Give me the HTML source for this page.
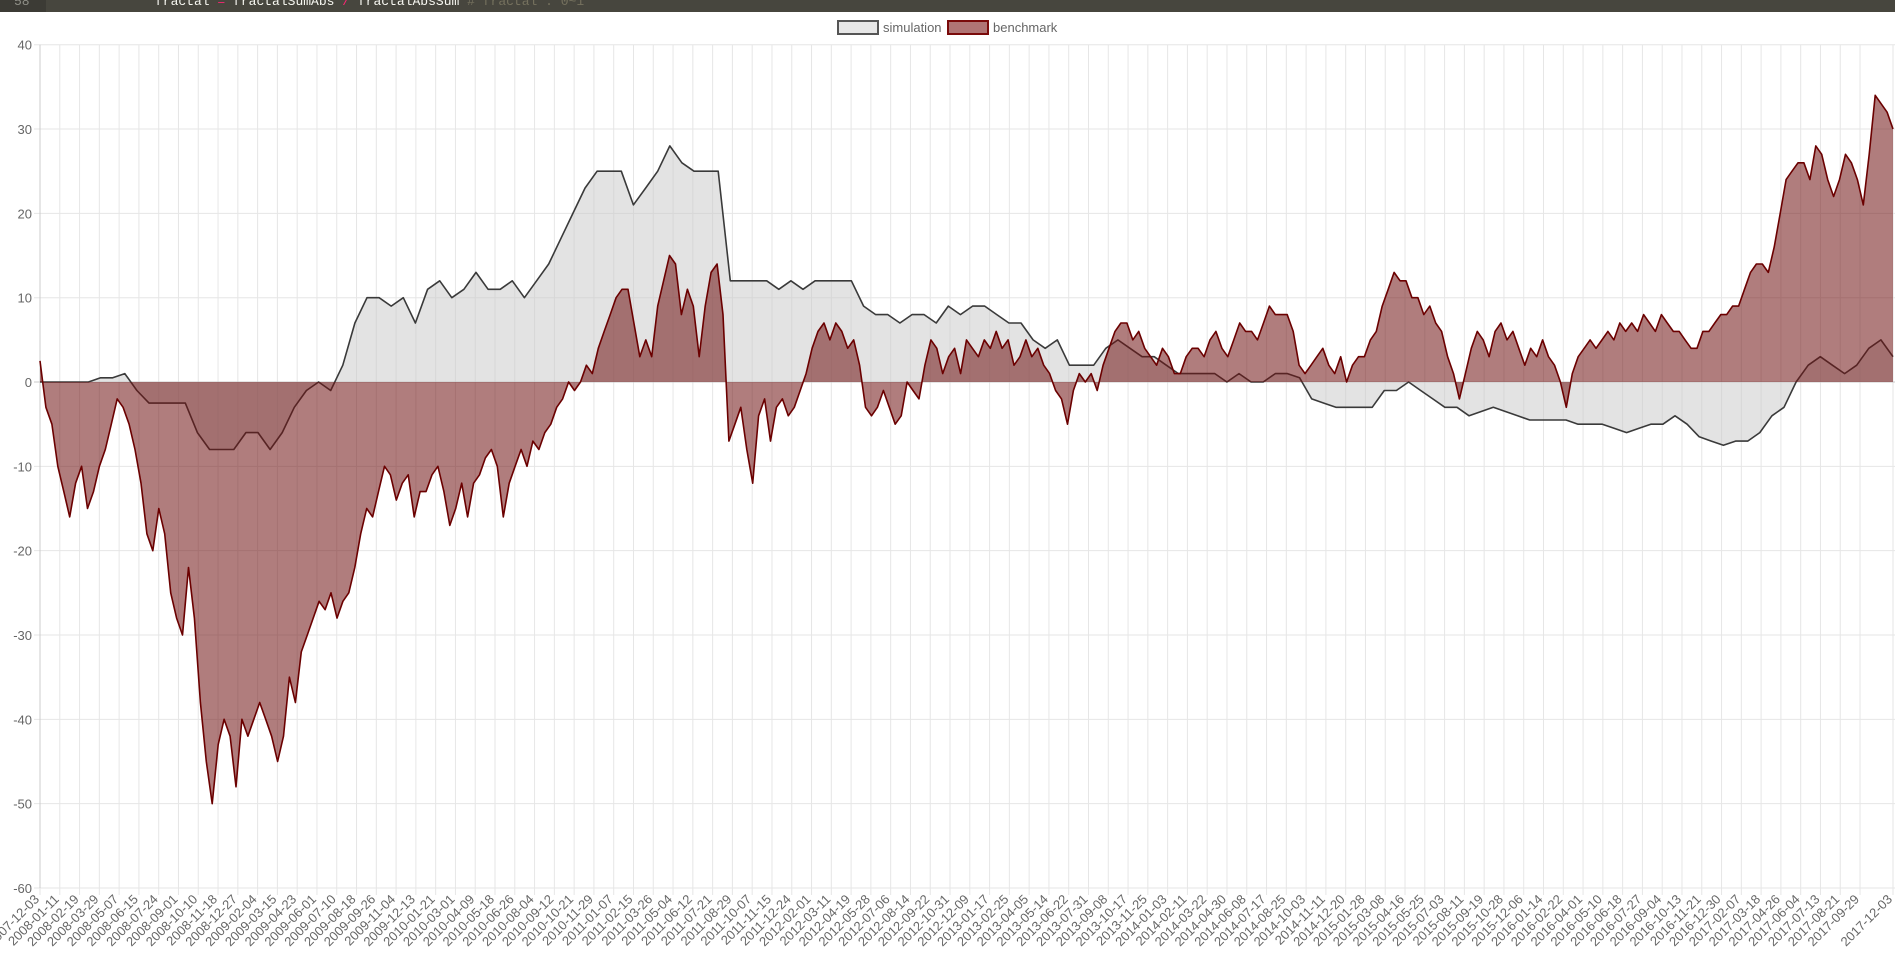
<!DOCTYPE html>
<html><head><meta charset="utf-8">
<style>
html,body{margin:0;padding:0;background:#fff;width:1895px;height:974px;overflow:hidden;font-family:"Liberation Sans",sans-serif}
#topbar{position:absolute;left:0;top:0;width:1895px;height:12px;background:#47463e;overflow:hidden}
#gutter{position:absolute;left:0;top:0;width:46px;height:12px;background:#3c3b35}
#topbar span{position:absolute;top:-6px;font:13px "Liberation Mono",monospace;white-space:nowrap}
svg{position:absolute;left:0;top:0}
</style></head><body>
<div id="topbar">
<div id="gutter"></div>
<span style="left:14px;color:#8f8f87">58</span>
<span style="left:155px;color:#f8f8f2">fractal <span style="position:static;color:#f92672">=</span> fractalSumAbs <span style="position:static;color:#f92672">/</span> fractalAbsSum <span style="position:static;color:#75715e"># fractal : 0~1</span></span>
</div>
<svg id="chart" width="1895" height="974"></svg>
<script>
const startDate = "2007-12-03";
const endDate = "2017-12-03";
const tickStepDays = 39;
const yTicks = [40,30,20,10,0,-10,-20,-30,-40,-50,-60];
const seriesNames = ["simulation","benchmark"];
const simulation = [0,0,0,0,0,0.5,0.5,1,-1,-2.5,-2.5,-2.5,-2.5,-6,-8,-8,-8,-6,-6,-8,-6,-3,-1,0,-1,2,7,10,10,9,10,7,11,12,10,11,13,11,11,12,10,12,14,17,20,23,25,25,25,21,23,25,28,26,25,25,25,12,12,12,12,11,12,11,12,12,12,12,9,8,8,7,8,8,7,9,8,9,9,8,7,7,5,4,5,2,2,2,4,5,4,3,3,2,1,1,1,1,0,1,0,0,1,1,0.5,-2,-2.5,-3,-3,-3,-3,-1,-1,0,-1,-2,-3,-3,-4,-3.5,-3,-3.5,-4,-4.5,-4.5,-4.5,-4.5,-5,-5,-5,-5.5,-6,-5.5,-5,-5,-4,-5,-6.5,-7,-7.5,-7,-7,-6,-4,-3,0,2,3,2,1,2,4,5,3];
const benchmark = [2.5,-3,-5,-10,-13,-16,-12,-10,-15,-13,-10,-8,-5,-2,-3,-5,-8,-12,-18,-20,-15,-18,-25,-28,-30,-22,-28,-38,-45,-50,-43,-40,-42,-48,-40,-42,-40,-38,-40,-42,-45,-42,-35,-38,-32,-30,-28,-26,-27,-25,-28,-26,-25,-22,-18,-15,-16,-13,-10,-11,-14,-12,-11,-16,-13,-13,-11,-10,-13,-17,-15,-12,-16,-12,-11,-9,-8,-10,-16,-12,-10,-8,-10,-7,-8,-6,-5,-3,-2,0,-1,0,2,1,4,6,8,10,11,11,7,3,5,3,9,12,15,14,8,11,9,3,9,13,14,8,-7,-5,-3,-8,-12,-4,-2,-7,-3,-2,-4,-3,-1,1,4,6,7,5,7,6,4,5,2,-3,-4,-3,-1,-3,-5,-4,0,-1,-2,2,5,4,1,3,4,1,5,4,3,5,4,6,4,5,2,3,5,3,4,2,1,-1,-2,-5,-1,1,0,1,-1,2,4,6,7,7,5,6,4,3,2,4,3,1,1,3,4,4,3,5,6,4,3,5,7,6,6,5,7,9,8,8,8,6,2,1,2,3,4,2,1,3,0,2,3,3,5,6,9,11,13,12,12,10,10,8,9,7,6,3,1,-2,1,4,6,5,3,6,7,5,6,4,2,4,3,5,3,2,0,-3,1,3,4,5,4,5,6,5,7,6,7,6,8,7,6,8,7,6,6,5,4,4,6,6,7,8,8,9,9,11,13,14,14,13,16,20,24,25,26,26,24,28,27,24,22,24,27,26,24,21,27,34,33,32,30];

const NS="http://www.w3.org/2000/svg";
const svg=document.getElementById('chart');
const L=40,R=1893,T=44.7,B=888;
const DAY=86400000;
const t0=Date.parse(startDate),t1=Date.parse(endDate);
const totalDays=(t1-t0)/DAY;
const xDay=d=>L+(R-L)*d/totalDays;
const yV=v=>T+(B-T)*(40-v)/100;
function mk(tag,attrs){const e=document.createElementNS(NS,tag);for(const k in attrs)e.setAttribute(k,attrs[k]);svg.appendChild(e);return e;}
const tickLabels=[];const tickDays=[];
for(let d=0;d<=totalDays-50;d+=tickStepDays){tickDays.push(d);tickLabels.push(new Date(t0+d*DAY).toISOString().slice(0,10));}
tickDays.push(totalDays);tickLabels.push(endDate);
tickDays.forEach((d,i)=>{
  const g=mk('line',{x1:xDay(d),x2:xDay(d),y1:T,y2:B+7,stroke:'#e6e6e6','stroke-width':1});
  
  
  const x=xDay(d);
  const t=mk('text',{x:x,y:B+12,'font-size':13,fill:'#666','text-anchor':'end',transform:`rotate(-45 ${x} ${B+12})`});
  t.textContent=tickLabels[i];
  
  
});
yTicks.forEach(v=>{
  const y=yV(v);
  const g=mk('line',{x1:L-6,x2:R+2,y1:y,y2:y,stroke:v===0?'#c8c8c8':'#e6e6e6','stroke-width':1});
  
  
  const t=mk('text',{x:L-8,y:y+5,'font-size':13,fill:'#666','text-anchor':'end'});
  t.textContent=v;
  
  
});
mk('line',{x1:L,x2:L,y1:T,y2:B,stroke:'#ccc'});
function drawSeries(vals,fill,stroke,name){
  const n=vals.length;
  const pts=vals.map((v,i)=>[xDay(totalDays*i/(n-1)),yV(v)]);
  const line=pts.map(p=>p[0].toFixed(1)+','+p[1].toFixed(1)).join(' L');
  const area=mk('path',{d:`M${pts[0][0]},${yV(0)} L${line} L${pts[n-1][0]},${yV(0)} Z`,fill:fill,stroke:'none'});
  
  
  const ln=mk('path',{d:'M'+line,fill:'none',stroke:stroke,'stroke-width':1.6,'stroke-linejoin':'round'});
  
  
}
drawSeries(simulation,'rgba(200,200,200,0.5)','#3a3a3a','simulation');
drawSeries(benchmark,'rgba(111,19,19,0.55)','#6b0000','benchmark');
const legend=[[seriesNames[0],'#e6e6e6','#555',838],[seriesNames[1],'#b07474','#7a0a0a',948]];
legend.forEach(([nm,f,s,x])=>{
  const r=mk('rect',{x:x,y:21,width:40,height:13,fill:f,stroke:s,'stroke-width':2});
  
  
  const t=mk('text',{x:x+45,y:32,'font-size':13,fill:'#666'});
  t.textContent=nm;
  
  
});
</script>
</body></html>
